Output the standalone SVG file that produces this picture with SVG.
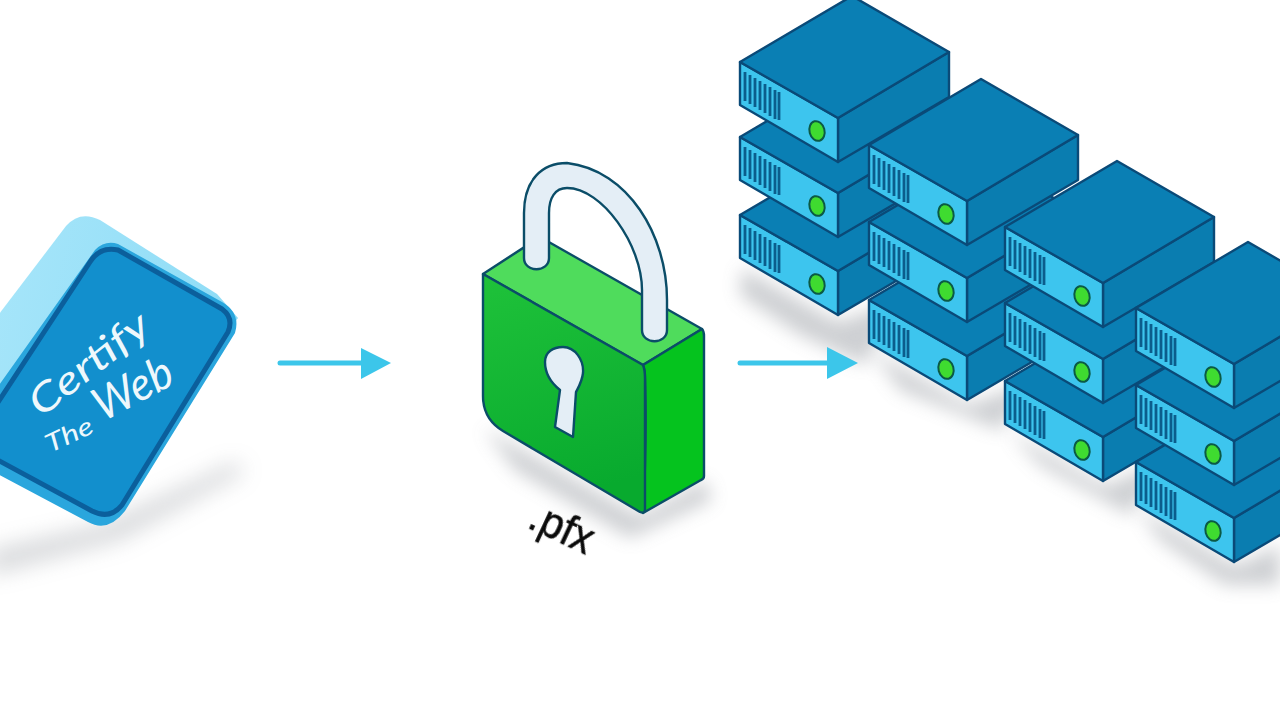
<svg xmlns="http://www.w3.org/2000/svg" xmlns:xlink="http://www.w3.org/1999/xlink" width="1280" height="720" viewBox="0 0 1280 720">
<style>
.e{stroke:#0a4a78;stroke-width:2.4;stroke-linejoin:round}
.top{fill:#0a7fb4}.side{fill:#0a7db0}.front{fill:#3dc5ee}
.slat{stroke:#0b5d8c;stroke-width:2.8;fill:none}
.led{fill:#3fdb30;stroke:#0b5a45;stroke-width:2}
.lk{stroke:#0b4d68;stroke-width:2.4;stroke-linejoin:round}
.conn{stroke:#3cc6ea;stroke-width:5;fill:none;stroke-linecap:round}
.head{fill:#3cc6ea}
.cert{fill:#eef8fc;font-family:"Lato","Liberation Sans",sans-serif;font-style:italic}
</style>
<defs>
<filter id="b8" x="-30%" y="-30%" width="160%" height="160%"><feGaussianBlur stdDeviation="9"/></filter>
<filter id="b14" x="-30%" y="-60%" width="160%" height="220%"><feGaussianBlur stdDeviation="11"/></filter>
<linearGradient id="lf" x1="0" y1="0" x2="0.2" y2="1"><stop offset="0" stop-color="#1fc23a"/><stop offset="1" stop-color="#08aa2e"/></linearGradient>
<linearGradient id="lt" x1="0" y1="0" x2="1" y2="0.3"><stop offset="0" stop-color="#a8e6fa"/><stop offset="1" stop-color="#8edcf6"/></linearGradient>
<g id="srv">
<path class="e side" d="M98 56L209 -10V35L98 100Z"/>
<path class="e front" d="M0 0L98 56V100L0 43Z"/>
<path class="e top" d="M0 0L112 -66L209 -10L98 56Z"/>
<path class="slat" d="M5 10v29M10 13v29M15 16v29M20 19v29M25 22v29M30 25v29M35 28v29M39 30v28"/>
<ellipse class="led" cx="77" cy="69" rx="7.5" ry="10" transform="rotate(-15 77 69)"/>
</g>
</defs>
<rect width="1280" height="720" fill="#ffffff"/>

<g id="shadows" fill="#8a8f96">
<g opacity="0.42">
<path d="M742 268L838 322L900 300L865 365L800 335L740 295Z" filter="url(#b8)"/>
<path d="M872 350L968 405L1035 380L1000 430L900 390Z" filter="url(#b8)"/>
<path d="M1008 430L1105 486L1165 460L1130 515L1040 465Z" filter="url(#b8)"/>
<path d="M1138 508L1235 566L1280 545V585L1225 585L1160 540Z" filter="url(#b8)"/>
<path d="M484 428L640 516L705 480L712 500L630 538L515 470Z" filter="url(#b8)"/>
</g>
<path opacity="0.34" d="M-10 550L100 525L235 462L245 472L120 540L-10 575Z" filter="url(#b14)"/>
</g>

<g id="card">
<path d="M-10 326L66 226Q80 210 100 220L217 294L238 318L100 500L-10 470Z" fill="url(#lt)"/>
<path d="M118 244L222 302Q241 313 235 333L125 511Q108 533 88 522L-10 470L-40 440L95 250Q105 240 118 244Z" fill="#2aa6dd"/>
<path d="M-30 445L90 262Q100 246 118 250L222 309Q234 318 228 332L122 505Q110 520 92 511L-30 445Z" fill="#128fcd" stroke="#0b5f9c" stroke-width="5" stroke-linejoin="round"/>
<text class="cert" font-size="39" font-weight="400" transform="translate(41,418) rotate(-38)" textLength="142" lengthAdjust="spacingAndGlyphs">Certify</text>
<text class="cert" font-size="25" font-weight="400" transform="translate(50,453) rotate(-25)" textLength="50" lengthAdjust="spacingAndGlyphs">The</text>
<text class="cert" font-size="46" font-weight="400" transform="translate(103,422) rotate(-28)" textLength="84" lengthAdjust="spacingAndGlyphs">Web</text>
</g>

<g id="connectors">
<path class="conn" d="M280 363H368"/>
<path class="head" d="M361 348L391 363L361 379Z"/>
<path class="conn" d="M740 363H832"/>
<path class="head" d="M827 347L858 363L827 379Z"/>
</g>

<g id="lock">
<path class="lk" d="M483 274L540 237L702 329L643 365Z" fill="#4fdc5c"/>
<path class="lk" d="M643 365L702 329Q704 331 704 336V476Q704 479 701 480L643 513Q647 440 645 378Q645 370 643 365Z" fill="#05c31e"/>
<path class="lk" d="M483 274L643 365Q645 370 645 378V509Q645 514 640 512L503 431Q483 419 483 396Z" fill="url(#lf)"/>
<path class="lk" d="M524 258V213C524 180 542 163 567 163C628 170 667 235 667 300V330C667 345 642 345 642 330V290C642 245 602 188 567 188C555 188 549 198 549 213V258C549 273 524 273 524 258Z" fill="#e4eef6"/>
<path class="lk" d="M563 347C575 347 584 360 583 373C582 382 578 388 576 392L573 437L555 427L560 390C550 382 545 372 545 362C545 352 553 347 563 347Z" fill="#e4eef6"/>
<text transform="translate(526,527) rotate(25)" font-family="Liberation Sans, sans-serif" font-size="44" fill="#0a0a0a" stroke="#0a0a0a" stroke-width="0.5" textLength="66" lengthAdjust="spacingAndGlyphs">.pfx</text>
</g>

<g id="col1">
<use id="server-1c" xlink:href="#srv" transform="translate(740,215)"/>
<use id="server-1b" xlink:href="#srv" transform="translate(740,137)"/>
<use id="server-1a" xlink:href="#srv" transform="translate(740,62)"/>
</g>
<g id="col2">
<use id="server-2c" xlink:href="#srv" transform="translate(869,300)"/>
<use id="server-2b" xlink:href="#srv" transform="translate(869,222)"/>
<use id="server-2a" xlink:href="#srv" transform="translate(869,145)"/>
</g>
<g id="col3">
<use id="server-3c" xlink:href="#srv" transform="translate(1005,381)"/>
<use id="server-3b" xlink:href="#srv" transform="translate(1005,303)"/>
<use id="server-3a" xlink:href="#srv" transform="translate(1005,227)"/>
</g>
<g id="col4">
<use id="server-4c" xlink:href="#srv" transform="translate(1136,462)"/>
<use id="server-4b" xlink:href="#srv" transform="translate(1136,385)"/>
<use id="server-4a" xlink:href="#srv" transform="translate(1136,308)"/>
</g>
</svg>
